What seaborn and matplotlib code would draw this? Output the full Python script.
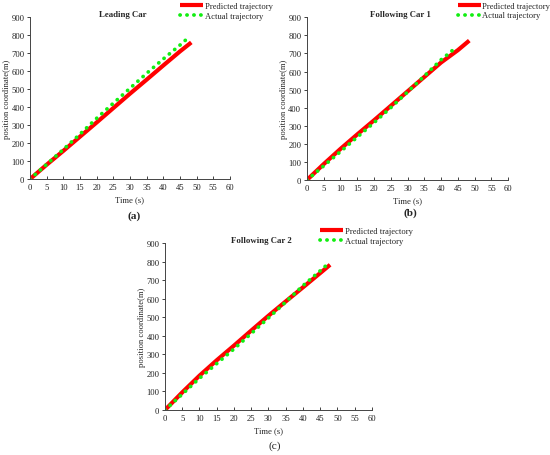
import matplotlib
matplotlib.use("Agg")
import matplotlib.pyplot as plt
import seaborn as sns

# leading car
lead_t_pred = [0, 5, 10, 15, 20, 25, 30, 35, 40, 45, 48.4]
lead_pred = [0, 80, 157, 236, 315, 395, 475, 553, 632, 710, 760]
lead_t_act = [0, 5, 10, 15, 20, 25, 30, 35, 40, 45, 47.3]
lead_act = [0, 82, 165, 250, 338, 422, 505, 588, 668, 745, 783]

# following car 1
f1_t_pred = [0, 5, 10, 15, 20, 25, 30, 35, 40, 45, 48.4]
f1_pred = [0, 88, 172, 252, 330, 410, 490, 570, 650, 718, 771]
f1_t_act = [0, 5, 10, 15, 20, 25, 30, 35, 40, 44.8]
f1_act = [0, 78, 157, 237, 317, 400, 487, 575, 665, 738]

# following car 2
f2_t_pred = [0, 5, 10, 15, 20, 25, 30, 35, 40, 45, 47.9]
f2_pred = [0, 95, 185, 268, 347, 428, 508, 585, 661, 738, 783]
f2_t_act = [0, 5, 10, 15, 20, 25, 30, 35, 40, 45, 47.4]
f2_act = [0, 85, 171, 250, 329, 412, 496, 582, 670, 750, 790]

titles = ["Leading Car", "Following Car 1", "Following Car 2"]
panel_tags = ["(a)", "(b)", "(c)"]
x_ticks = list(range(0, 61, 5))
y_ticks = list(range(0, 901, 100))

sns.set_style("ticks")
plt.rcParams['font.family'] = ['Liberation Serif', 'DejaVu Serif']

fig = plt.figure(figsize=(5.5, 4.56), dpi=100)
boxes = [
    [0.0545, 0.605, 0.3636, 0.355],
    [0.558, 0.603, 0.366, 0.357],
    [0.300, 0.0987, 0.376, 0.366],
]
series = [
    (lead_t_pred, lead_pred, lead_t_act, lead_act),
    (f1_t_pred, f1_pred, f1_t_act, f1_act),
    (f2_t_pred, f2_pred, f2_t_act, f2_act),
]
tag_pos = [(134, 216), (410, 213), (275, 446)]

for box, (tp, yp, ta, ya), title, tag, (tx, ty) in zip(boxes, series, titles, panel_tags, tag_pos):
    ax = fig.add_axes(box)
    sns.lineplot(x=tp, y=yp, ax=ax, color='#ff0000', linewidth=3.0,
                 label='Predicted trajectory', solid_capstyle='butt')
    sns.lineplot(x=ta, y=ya, ax=ax, color='#11ee11', linewidth=2.7,
                 linestyle=(0, (0.05, 1.8)), dash_capstyle='round',
                 label='Actual trajectory')
    ax.set_xlim(0, 60)
    ax.set_ylim(0, 900)
    ax.set_xticks(x_ticks)
    ax.set_yticks(y_ticks)
    ax.tick_params(length=2.5, width=0.6, labelsize=6.2, pad=2, colors='#222222')
    ax.tick_params(axis='x', direction='in', pad=3)
    ax.tick_params(axis='y', direction='out', pad=1.5)
    for s in ['top', 'right']:
        ax.spines[s].set_visible(False)
    for s in ['left', 'bottom']:
        ax.spines[s].set_linewidth(0.7)
        ax.spines[s].set_color('#444444')
    ax.set_xlabel('Time (s)', fontsize=6.2, labelpad=3)
    ax.set_ylabel('position coordinate(m)', fontsize=6.2, labelpad=0.5)
    ax.text(0.465, 1.02, title, transform=ax.transAxes, ha='center', va='center',
            fontsize=6.3, fontweight='bold')
    ax.legend(loc='upper left', bbox_to_anchor=(0.75, 1.095), frameon=False,
              fontsize=6.1, handlelength=2.7, handletextpad=0.2, labelspacing=0.2,
              borderpad=0, borderaxespad=0)
    fig.text(tx / 550, 1 - ty / 456, tag, ha='center', va='center', fontsize=8.2,
             fontweight='normal' if tag == '(c)' else 'bold')

fig.savefig('out.png', dpi=100)
